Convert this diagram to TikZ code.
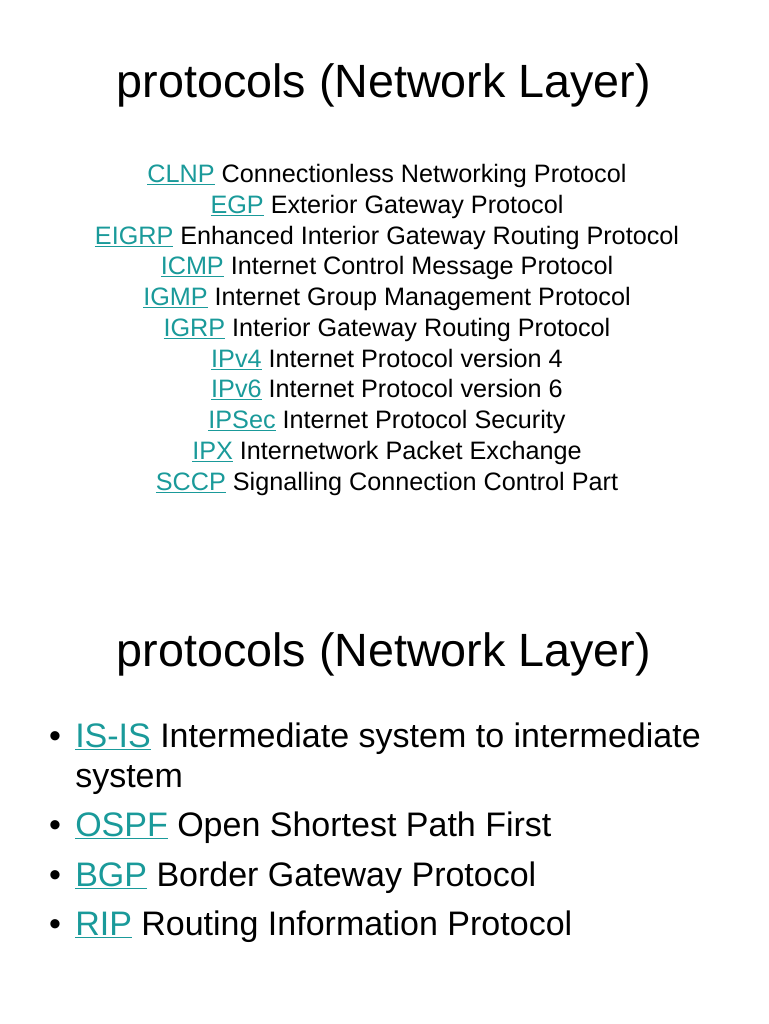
\documentclass[tikz,border=0pt]{standalone}
\usepackage{fontspec}
\setmainfont{Liberation Sans}
\definecolor{lnk}{HTML}{1A9A9A}
\newcommand{\lk}[1]{\textcolor{lnk}{\underline{#1}}}
\begin{document}
\begin{tikzpicture}[x=0.75pt,y=-0.75pt,
  ttl/.style={anchor=base,inner sep=0pt,font=\fontsize{35}{40}\selectfont},
  sm/.style={anchor=base,inner sep=0pt,font=\fontsize{18.9}{20}\selectfont},
  big/.style={anchor=base west,inner sep=0pt,font=\fontsize{25.5}{28}\selectfont}]
\useasboundingbox[fill=white] (0,0) rectangle (768,1024);
\node[ttl] (t1) at (384,98) {protocols (Network Layer)};
\node[sm] (l1) at (387,182) {\lk{CLNP} Connectionless Networking Protocol};
\node[sm] (l2) at (387,213) {\lk{EGP} Exterior Gateway Protocol};
\node[sm] (l3) at (387,244) {\lk{EIGRP} Enhanced Interior Gateway Routing Protocol};
\node[sm] (l4) at (387,274) {\lk{ICMP} Internet Control Message Protocol};
\node[sm] (l5) at (387,305) {\lk{IGMP} Internet Group Management Protocol};
\node[sm] (l6) at (387,336) {\lk{IGRP} Interior Gateway Routing Protocol};
\node[sm] (l7) at (387,367) {\lk{IPv4} Internet Protocol version 4};
\node[sm] (l8) at (387,397) {\lk{IPv6} Internet Protocol version 6};
\node[sm] (l9) at (387,428) {\lk{IPSec} Internet Protocol Security};
\node[sm] (l10) at (387,459) {\lk{IPX} Internetwork Packet Exchange};
\node[sm] (l11) at (387,490) {\lk{SCCP} Signalling Connection Control Part};
\node[ttl] (t2) at (384,666) {protocols (Network Layer)};
\foreach \y/\n in {747/b1,836/b2,886/b3,935/b4}
  \node[big,anchor=base] (\n) at (55,\y) {•};
\node[big] (i1) at (75,747) {\lk{IS-IS} Intermediate system to intermediate};
\node[big] (i1b) at (75,787) {system};
\node[big] (i2) at (75,836) {\lk{OSPF} Open Shortest Path First};
\node[big] (i3) at (75,886) {\lk{BGP} Border Gateway Protocol};
\node[big] (i4) at (75,935) {\lk{RIP} Routing Information Protocol};
\end{tikzpicture}
\end{document}
